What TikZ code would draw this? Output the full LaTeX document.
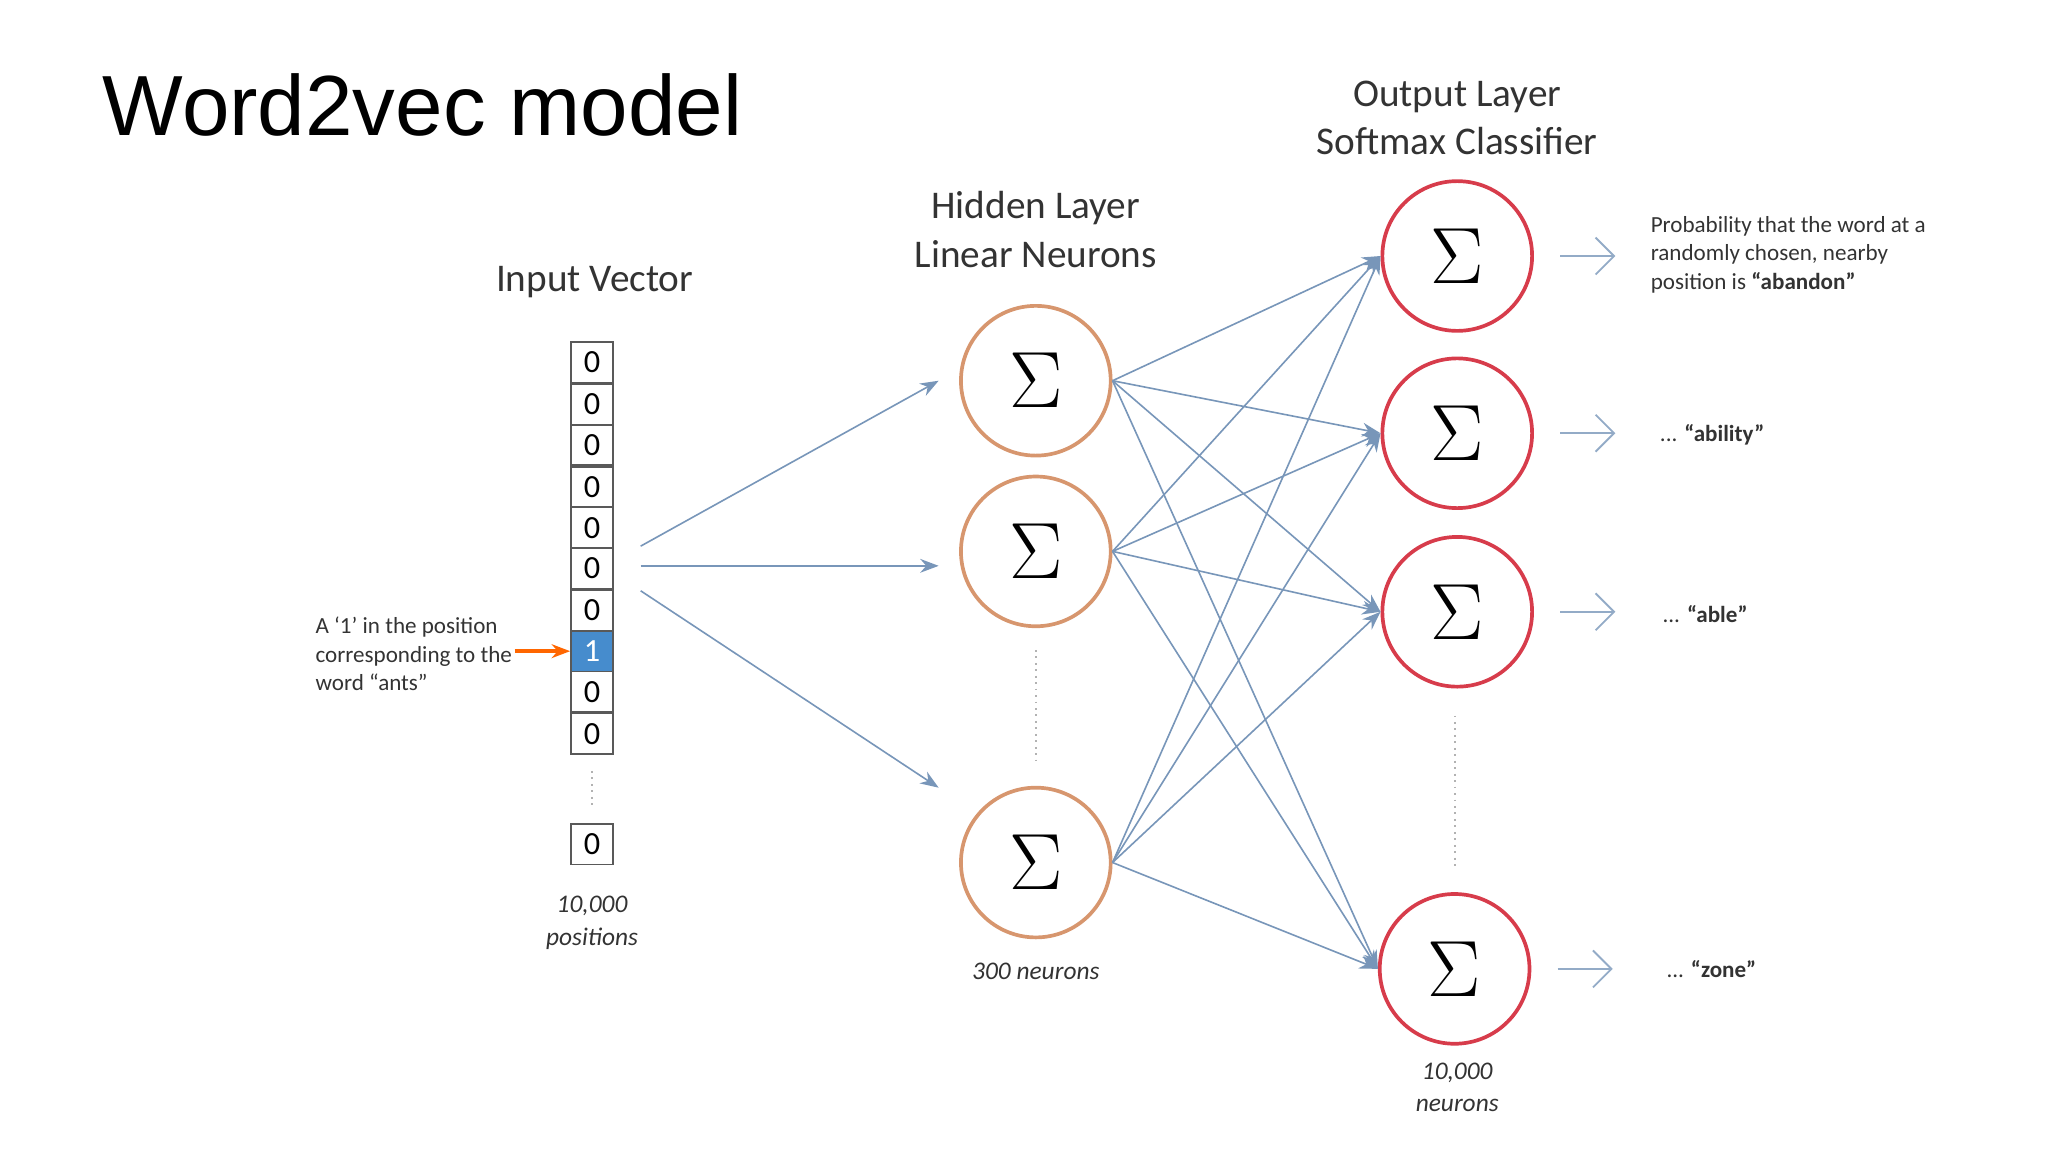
\documentclass[tikz,border=0pt]{standalone}
\usepackage{fontspec}
\setmainfont{Carlito}
\newfontfamily\titlefont{Liberation Sans}
\usetikzlibrary{arrows.meta,calc}
\definecolor{linkblue}{RGB}{120,150,185}
\definecolor{hidorange}{RGB}{215,150,110}
\definecolor{outred}{RGB}{215,60,75}
\definecolor{onecell}{RGB}{70,140,205}
\tikzset{
  neuronh/.style={circle, draw=hidorange, thick, minimum size=1.14cm, inner sep=0pt, font=\fontsize{17}{17}\selectfont},
  neurono/.style={circle, draw=outred, thick, minimum size=1.14cm, inner sep=0pt, font=\fontsize{17}{17}\selectfont},
  cell/.style={draw=gray!70!black, minimum width=0.32cm, minimum height=0.31cm, inner sep=0pt, font=\fontsize{7}{7}\selectfont},
  link/.style={draw=linkblue, line width=0.35pt, -{Stealth[length=4pt,width=3pt]}},
  lbl/.style={font=\fontsize{8.5}{10.5}\selectfont, align=center, text=black!80},
  small/.style={font=\fontsize{5}{6.2}\selectfont, align=left, text=black!80},
  italic/.style={font=\itshape\fontsize{5.5}{7}\selectfont, align=center, text=black!80},
}
\begin{document}
\begin{tikzpicture}[x=0.01cm, y=-0.01cm]
    \useasboundingbox (0,0) rectangle (1560,878);

    \node[anchor=west, font=\titlefont\fontsize{18.5}{18.5}\selectfont] (title) at (66,80) {Word2vec model};

% input vector
    \node[lbl] (inlbl) at (453,215) {Input Vector};
    \foreach \i/\y in {1/276,2/308,3/339,4/371,5/402,6/433,7/465,9/527,10/559}
        \node[cell] (c\i) at (451,\y) {0};
    \node[cell, fill=onecell, text=white] (c8) at (451,496) {1};
    \node[cell] (clast) at (451,643) {0};
    \draw[gray!60, densely dotted] ($(c10.south)+(0,12)$) -- ($(clast.north)+(0,-12)$);
    \node[italic] (inpos) at (451,703) {10,000\\positions};
    \node[small, anchor=west] (note) at (228,498) {A `1' in the position\\corresponding to the\\word ``ants''};
    \coordinate (nt) at (392,496);
    \draw[draw=orange!80!red, thick, -{Stealth[length=4pt]}] (nt) -- (c8.west);

% hidden layer
    \node[lbl] (hidlbl) at (789,175) {Hidden Layer\\Linear Neurons};
    \node[neuronh] (h1) at (789,290) {$\Sigma$};
    \node[neuronh] (h2) at (789,420) {$\Sigma$};
    \node[neuronh] (h3) at (789,657) {$\Sigma$};
    \draw[gray!60, densely dotted] (789,495) -- (789,580);
    \node[italic] (hidn) at (789,740) {300 neurons};

    \coordinate (s1) at (488,416);
    \coordinate (s2) at (488,431);
    \coordinate (s3) at (488,450);
    \coordinate (t1) at (715,290);
    \coordinate (t2) at (715,431);
    \coordinate (t3) at (715,600);
    \draw[link] (s1) -- (t1);
    \draw[link] (s2) -- (t2);
    \draw[link] (s3) -- (t3);

% output layer
    \node[lbl] (outlbl) at (1110,90) {Output Layer\\Softmax Classifier};
    \node[neurono] (o1) at (1110,195) {$\Sigma$};
    \node[neurono] (o2) at (1110,330) {$\Sigma$};
    \node[neurono] (o3) at (1110,466) {$\Sigma$};
    \node[neurono] (o4) at (1108,738) {$\Sigma$};
    \draw[gray!60, densely dotted] (1108,545) -- (1108,660);
    \node[italic] (outn) at (1110,828) {10,000\\neurons};

    \foreach \h in {h1,h2,h3}
        \foreach \o in {o1,o2,o3,o4}
            \draw[link] (\h.east) -- (\o.west);

% outputs
    \foreach \o/\t in {o1/p1,o2/p2,o3/p3,o4/p4} {
        \coordinate (\t a) at ($(\o.east)+(20,0)$);
        \coordinate (\t b) at ($(\o.east)+(62,0)$);
        \draw[draw=linkblue!80, -{Straight Barb[length=4pt]}] (\t a) -- (\t b);
    }
    \node[small, anchor=west] (w1) at (1245,194) {Probability that the word at a\\randomly chosen, nearby\\position is \textbf{``abandon''}};
    \node[small, anchor=west] (w2) at (1252,331) {... \textbf{``ability''}};
    \node[small, anchor=west] (w3) at (1254,468) {... \textbf{``able''}};
    \node[small, anchor=west] (w4) at (1257,738) {... \textbf{``zone''}};
\end{tikzpicture}
\end{document}
